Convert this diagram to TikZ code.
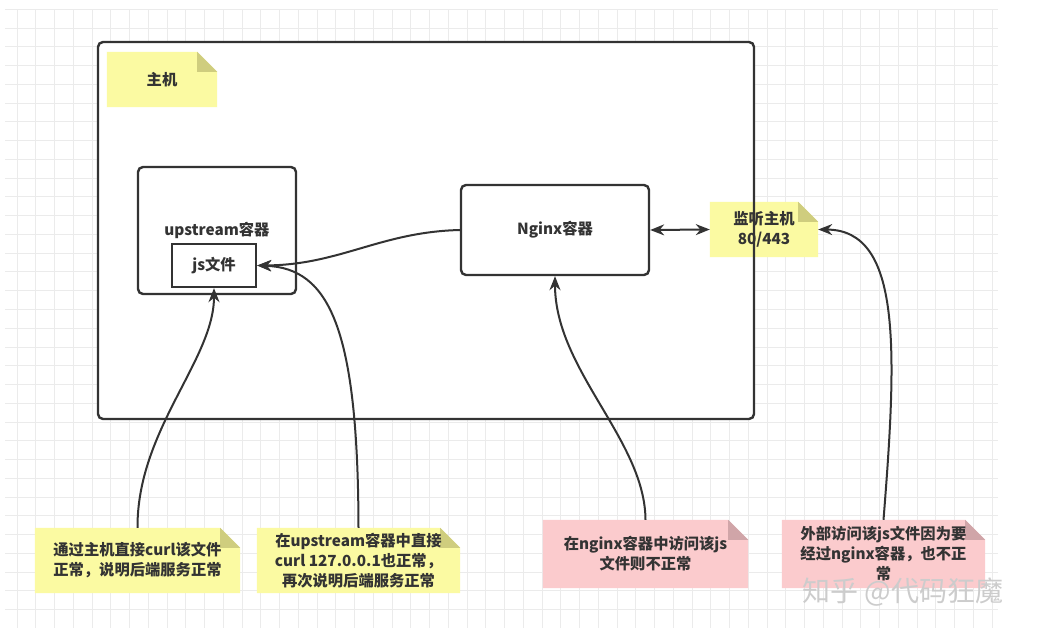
\documentclass[tikz,border=0pt]{standalone}
\usepackage{fontspec}
\setmainfont{Noto Sans CJK SC}
\usetikzlibrary{arrows.meta,backgrounds}
\definecolor{linegray}{HTML}{333333}
\definecolor{gridgray}{HTML}{EBEBEB}
\definecolor{noteyellow}{HTML}{FBFAA2}
\definecolor{foldyellow}{HTML}{CFCD7E}
\definecolor{notepink}{HTML}{FBCBCD}
\definecolor{foldpink}{HTML}{D0A5A8}
\pgfdeclarelayer{grid}
\pgfsetlayers{grid,background,main}

\begin{document}
\begin{tikzpicture}[x=1pt,y=-1pt,
  every node/.style={font=\fontsize{15.3}{20}\selectfont\bfseries, text=linegray},
  box/.style={draw=linegray, line width=2.4pt, rounded corners=5pt, fill=white, inner sep=0pt},
  filebox/.style={box, rounded corners=0pt},
  note/.style={inner sep=0pt, align=center},
  arr/.style={-{Stealth[length=14pt,width=11pt]}, line width=2pt, draw=linegray},
  wmark/.style={font=\fontsize{28}{30}\selectfont, text=gray!40}
]
  \useasboundingbox (0,0) rectangle (1042,631);

  % host and containers
  \node[draw=linegray, line width=2.4pt, rounded corners=5pt, minimum width=656pt, minimum height=377pt] (host) at (426,230.5) {};
  \node[box, minimum width=158pt, minimum height=127pt] (upstream) at (217,230.5) {upstream容器};
  \node[filebox, minimum width=84pt, minimum height=43pt] (js) at (214,265.5) {js文件};
  \node[box, minimum width=188pt, minimum height=90pt] (nginx) at (555,230) {Nginx容器};

  % notes
  \node[note, minimum width=110pt, minimum height=55pt] (hostlbl) at (162,79.5) {主机};
  \node[note, minimum width=108pt, minimum height=55pt] (portlbl) at (764,229.5) {监听主机\\80/443};
  \node[note, minimum width=205pt, minimum height=65pt] (curlhost) at (137.5,560.5) {通过主机直接curl该文件\\正常，说明后端服务正常};
  \node[note, minimum width=203pt, minimum height=65pt] (curlinner) at (358.5,560.5) {在upstream容器中直接\\curl 127.0.0.1也正常，\\再次说明后端服务正常};
  \node[note, minimum width=205pt, minimum height=68pt] (nginxtest) at (645.5,554) {在nginx容器中访问该js\\文件则不正常};
  \node[note, minimum width=203pt, minimum height=68pt] (outside) at (883.5,554) {外部访问该js文件因为要\\经过nginx容器，也不正\\常};

  % connectors
  \draw[arr, {Stealth[length=14pt,width=11pt]}-{Stealth[length=14pt,width=11pt]}] (nginx.east) -- (portlbl.west);
  \draw[arr] (nginx.west) .. controls (380,232) and (340,265) .. (js.east);
  \draw[arr] (curlhost.north) .. controls (137,430) and (214,360) .. (js.south);
  \draw[arr] (curlinner.north) .. controls (358,330) and (330,268) .. (js.east);
  \draw[arr] (nginxtest.north) .. controls (645,440) and (555,370) .. (nginx.south);
  \draw[arr] (outside.north) .. controls (897,350) and (902,230) .. (portlbl.east);

  \node[wmark] (zhihu) at (903,592) {知乎 @代码狂魔};

  % grid and note paper
  \begin{pgfonlayer}{grid}
    \foreach \gx in {0,...,52}
      \draw[gridgray, line width=1pt] (17+\gx*18.75,9) -- (17+\gx*18.75,628);
    \foreach \gy in {0,...,32}
      \draw[gridgray, line width=1pt] (5,9.5+\gy*18.75) -- (998,9.5+\gy*18.75);
    \fill[white, rounded corners=5pt] (host.north west) rectangle (host.south east);
  \end{pgfonlayer}
  \begin{pgfonlayer}{background}
    \foreach \n/\c/\f in {hostlbl/noteyellow/foldyellow, portlbl/noteyellow/foldyellow,
        curlhost/noteyellow/foldyellow, curlinner/noteyellow/foldyellow,
        nginxtest/notepink/foldpink, outside/notepink/foldpink} {
      \fill[\c] (\n.north west) -- ([xshift=-20pt]\n.north east) -- ([yshift=-20pt]\n.north east)
        -- (\n.south east) -- (\n.south west) -- cycle;
      \fill[\f] ([xshift=-20pt]\n.north east) -- ([xshift=-20pt,yshift=-20pt]\n.north east)
        -- ([yshift=-20pt]\n.north east) -- cycle;
    }
  \end{pgfonlayer}
\end{tikzpicture}
\end{document}
